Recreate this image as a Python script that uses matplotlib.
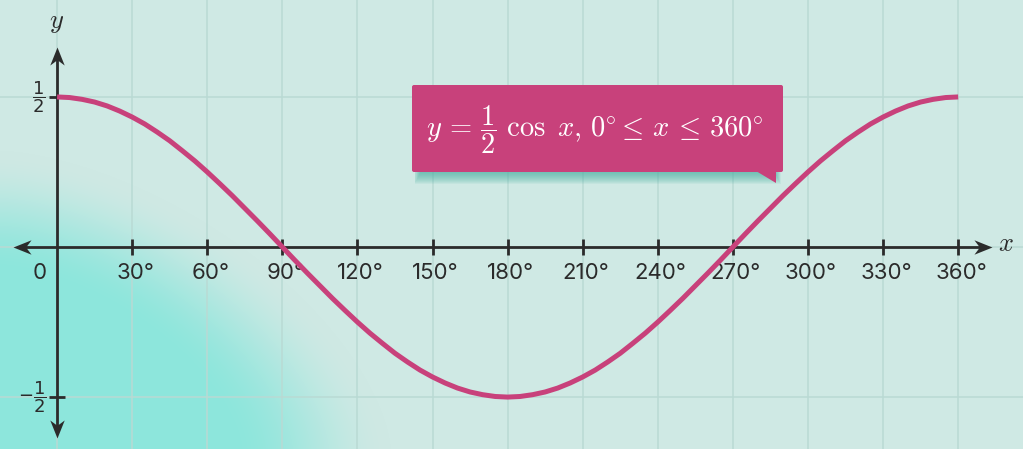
import numpy as np
import matplotlib
matplotlib.use("Agg")
import matplotlib.pyplot as plt
from matplotlib.path import Path
from matplotlib.patches import Rectangle, Polygon, FancyBboxPatch

# curve values, every 5 degrees from 0 to 90
quarter = [0.5, 0.498, 0.492, 0.483, 0.470, 0.453, 0.433, 0.410, 0.383, 0.354,
           0.321, 0.287, 0.250, 0.211, 0.171, 0.129, 0.087, 0.044, 0.0]
half = quarter + [-v for v in quarter[-2::-1]]
values = half + half[-2::-1]
angles = list(range(0, 361, 5))

xticks = list(range(30, 361, 30))
xtick_labels = [f"{t}°" for t in xticks]
yticks = [0.5, -0.5]
ytick_labels = [r"$\dfrac{1}{2}$", r"$-\dfrac{1}{2}$"]
title = (r"$y\,=\,\dfrac{1}{2}\ \cos\ x,\,0\!^\circ\!\leq\,x\,\leq\,"
         r"360\!^\circ$")

W, H = 1023, 449
X0, X1 = -22.8, 385.9
Y0, Y1 = -0.673, 0.823

BG = "#cfe9e4"
BRIGHT = "#8de6dc"
GRID = "#b9dad4"
INK = "#2b2b2b"
PINK = "#c8417b"


def px(x, y):
    # pixel position (from top-left) -> data coordinates
    return X0 + x / W * (X1 - X0), Y1 - y / H * (Y1 - Y0)


fig = plt.figure(figsize=(W / 100, H / 100), dpi=100)
ax = fig.add_axes([0, 0, 1, 1])
ax.set_xlim(X0, X1)
ax.set_ylim(Y0, Y1)

# background with a soft bright glow in the lower left corner
gx, gy = np.meshgrid(np.arange(W), np.arange(H))
p = 1.6
r = ((gx / 320.0) ** p + ((H - gy) / 245.0) ** p) ** (1 / p)
t = np.clip((r - 0.72) / 0.5, 0, 1)
t = t * t * (3 - 2 * t)
c0 = np.array(matplotlib.colors.to_rgb(BRIGHT))
c1 = np.array(matplotlib.colors.to_rgb(BG))
img = c0[None, None, :] * (1 - t[..., None]) + c1[None, None, :] * t[..., None]
ax.imshow(img, extent=(X0, X1, Y0, Y1), aspect="auto", zorder=0, origin="upper")

# grid
ax.set_xticks(range(0, 361, 30))
ax.set_yticks([-0.5, 0, 0.5])
ax.grid(True, color=GRID, lw=1.1, zorder=1)
ax.tick_params(length=0, labelbottom=False, labelleft=False)
for s in ax.spines.values():
    s.set_visible(False)

# axes with stealth arrow heads
head = Path([(0, 0), (-2, 0.8), (-1.4, 0), (-2, -0.8), (0, 0)],
            [Path.MOVETO, Path.LINETO, Path.LINETO, Path.LINETO, Path.CLOSEPOLY])


def rotated(deg):
    return matplotlib.markers.MarkerStyle(head).rotated(deg=deg)


xa0, xa1 = -17.6, 373.5
ya0, ya1 = -0.637, 0.667
ax.plot([xa0 + 3, xa1 - 3], [0, 0], color=INK, lw=2, zorder=3)
ax.plot([0, 0], [ya0 + 0.02, ya1 - 0.02], color=INK, lw=2, zorder=3)
for (hx, hy, ang) in [(xa1, 0, 0), (xa0, 0, 180), (0, ya1, 90), (0, ya0, 270)]:
    ax.plot(hx, hy, marker=rotated(ang), ms=26, color=INK, mec=INK, mew=0, zorder=4)

ax.plot(xticks, [0] * len(xticks), ls="", marker="|", ms=11, mew=2, color=INK, zorder=4)
ax.plot([0] * len(yticks), yticks, ls="", marker="_", ms=11, mew=2, color=INK, zorder=4)

for t_, lab in zip(xticks, xtick_labels):
    ax.text(t_ + 1.2, -0.088, lab, ha="center", va="center", fontsize=16,
            family="Inter", color=INK, zorder=5)
ax.text(-7.0, -0.088, "0", ha="center", va="center", fontsize=16,
        family="Inter", color=INK, zorder=5)
ax.text(-7.5, 0.5, ytick_labels[0], ha="center", va="center", fontsize=13,
        math_fontfamily="dejavusans", color=INK, zorder=5)
ax.text(-10.0, -0.5, ytick_labels[1], ha="center", va="center", fontsize=13,
        math_fontfamily="dejavusans", color=INK, zorder=5)
ax.text(*px(1006, 244), r"$x$", ha="center", va="center", fontsize=19,
        math_fontfamily="cm", color=INK, zorder=5)
ax.text(*px(57, 22), r"$y$", ha="center", va="center", fontsize=19,
        math_fontfamily="cm", color=INK, zorder=5)

# curve
ax.plot(angles, values, color=PINK, lw=3.6, solid_capstyle="butt",
        solid_joinstyle="round", zorder=6)

# label box with a soft shadow and a tail
bx0, by0 = px(412, 172)
bx1, by1 = px(783, 85)
dxp = (X1 - X0) / W
for k in range(12):
    sx0, sy0 = px(420 - k * 0.5, 172 + k + 1)
    ax.add_patch(Rectangle((sx0, sy0), (bx1 - bx0) - (16 - k) * dxp,
                           by1 - sy0, color="#4fb3a6", alpha=0.09, lw=0, zorder=7))
ax.add_patch(FancyBboxPatch((bx0, by0), bx1 - bx0, by1 - by0,
                            boxstyle="round,pad=0,rounding_size=0.8",
                            mutation_aspect=(Y1 - Y0) / H / dxp,
                            fc=PINK, ec="none", zorder=8))
ax.add_patch(Polygon([px(756, 171), px(776, 171), px(776, 183)], closed=True,
                     fc=PINK, ec="none", zorder=8))
ax.text(*px(595, 130), title, ha="center", va="center", fontsize=20.5,
        math_fontfamily="cm", color="white", zorder=9)

fig.savefig("out.png", dpi=100)
